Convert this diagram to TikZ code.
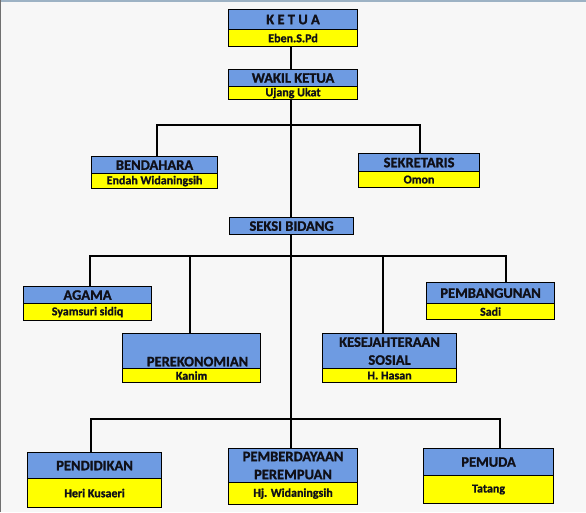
\documentclass[tikz,border=0pt]{standalone}
\usepackage{fontspec}
\setmainfont{Carlito}[BoldFeatures={FakeBold=1.2}]
\definecolor{bgc}{HTML}{F7F7F7}
\definecolor{boxblue}{HTML}{6E9BE2}
\definecolor{boxyellow}{HTML}{FFFF00}
\definecolor{topline}{HTML}{9DB2C4}
\definecolor{leftline}{HTML}{707070}
\definecolor{ink}{HTML}{101018}
\tikzset{
  titlebox/.style={draw=black, line width=1.1pt, fill=boxblue, inner sep=0pt, anchor=north west, align=center, font=\bfseries\fontsize{14.5}{18}\selectfont, text=ink},
  namebox/.style={draw=black, line width=1.1pt, fill=boxyellow, inner sep=0pt, anchor=north west, align=center, font=\bfseries\fontsize{12}{14}\selectfont, text=ink},
  link/.style={draw=black, line width=2.6pt}
}
% name, x1, x2, ytop, ydiv, ybot, title, person
\newcommand\orgbox[8]{%
  \node[titlebox, minimum width={#3-#2}, minimum height={#5-#4}] (#1) at (#2,#4) {#7};
  \node[namebox, minimum width={#3-#2}, minimum height={#6-#5}] (#1n) at (#2,#5) {#8};}
\begin{document}
\begin{tikzpicture}[x=1pt,y=-1pt]
  \fill[bgc] (0,0) rectangle (586,512);
  \useasboundingbox (0,0) rectangle (586,512);
  \fill[topline] (0,0) rectangle (586,1.5);
  \fill[leftline] (0,0) rectangle (1,512);

  % junction coordinates
  \coordinate (j1) at (291,125);
  \coordinate (j1l) at (157,125);
  \coordinate (j1r) at (420,125);
  \coordinate (j2) at (291,256);
  \coordinate (j2a) at (90,256);
  \coordinate (j2b) at (190,256);
  \coordinate (j2c) at (383,256);
  \coordinate (j2d) at (506,256);
  \coordinate (j3) at (291,419);
  \coordinate (j3l) at (91,419);
  \coordinate (j3r) at (500,419);

  % connectors (drawn first, under boxes)
  \draw[link] (291,46) -- (291,69);
  \draw[link] (291,99) -- (291,448);
  \draw[link] (j1l |- 0,156) -- (j1l) -- (j1r) -- (j1r |- 0,153);
  \draw[link] (j2a |- 0,286) -- (j2a) -- (j2d) -- (j2d |- 0,282);
  \draw[link] (j2b) -- (j2b |- 0,333);
  \draw[link] (j2c) -- (j2c |- 0,333);
  \draw[link] (j3l |- 0,452) -- (j3l) -- (j3r) -- (j3r |- 0,448);

  % boxes
  \orgbox{ketua}{228}{357}{9}{29}{46}{K E T U A}{Eben.S.Pd}
  \orgbox{wakil}{228}{357}{69}{86}{99}{WAKIL KETUA}{Ujang Ukat}
  \orgbox{bend}{91}{217}{156}{173}{188}{BENDAHARA}{Endah Widaningsih}
  \orgbox{sekr}{358}{479}{153}{171}{187}{SEKRETARIS}{Omon}
  \node[titlebox, minimum width=124, minimum height=17] (seksi) at (229,217) {SEKSI BIDANG};
  \orgbox{agama}{23}{151}{286}{303}{320}{AGAMA}{Syamsuri sidiq}
  \orgbox{pemb}{426}{554}{282}{303}{319}{PEMBANGUNAN}{Sadi}
  \orgbox{ekon}{122}{260}{333}{368}{382}{\strut\\\hspace*{12pt}PEREKONOMIAN}{Kanim}
  \orgbox{kesej}{322}{456}{333}{368}{382}{KESEJAHTERAAN\\SOSIAL}{H. Hasan}
  \orgbox{pend}{27}{161}{452}{478}{507}{PENDIDIKAN}{Heri Kusaeri}
  \orgbox{perem}{228}{357}{448}{482}{504}{PEMBERDAYAAN\\PEREMPUAN}{Hj. Widaningsih}
  \orgbox{pemuda}{423}{553}{448}{475}{503}{PEMUDA}{Tatang}
\end{tikzpicture}
\end{document}
